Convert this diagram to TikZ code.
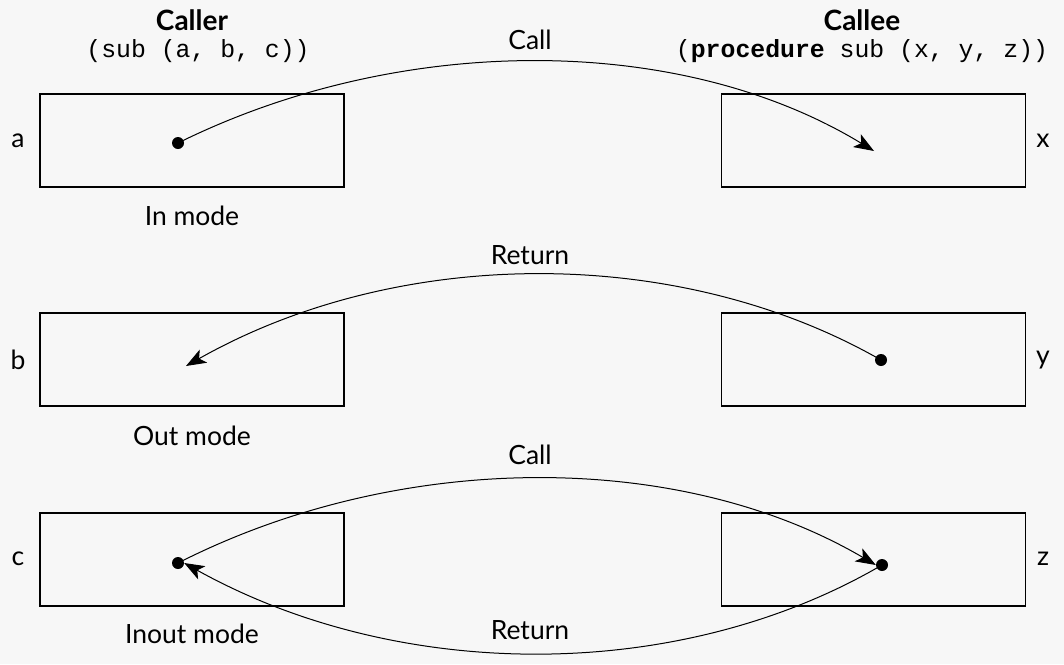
\documentclass[tikz,border=0pt]{standalone}
\usepackage{fontspec}
\setmainfont{Lato}
\newfontfamily\codefont{Liberation Mono}
\usetikzlibrary{arrows.meta}
\begin{document}
\begin{tikzpicture}[x=1pt,y=-1pt,
  box/.style={draw,line width=1.1pt,minimum width=304pt,minimum height=93pt,inner sep=0pt},
  lbl/.style={font=\fontsize{26.5}{28}\selectfont,inner sep=0pt},
  hdr/.style={font=\fontsize{28}{30}\selectfont\bfseries,inner sep=0pt},
  code/.style={font=\fontsize{24.8}{26}\selectfont\codefont,inner sep=0pt},
  dotc/.style={circle,fill,inner sep=0pt,minimum size=12pt},
  arr/.style={line width=1pt,-{Stealth[length=20pt,width=15pt,inset=5pt]}}]
\fill[black!3] (0,0) rectangle (1064,664);
\useasboundingbox (0,0) rectangle (1064,664);
% headers
\node[hdr] (caller) at (192,20) {Caller};
\node[code] (callercode) at (198,51) {(sub (a, b, c))};
\node[hdr] (callee) at (862,20) {Callee};
\node[code] (calleecode) at (862,51) {(\textbf{procedure} sub (x, y, z))};
% boxes
\node[box] (ba) at (192,140.5) {};
\node[box] (bx) at (873.5,140.5) {};
\node[box] (bb) at (192,359.5) {};
\node[box] (by) at (873.5,359.5) {};
\node[box] (bc) at (192,559.5) {};
\node[box] (bz) at (873.5,559.5) {};
% side labels
\node[lbl] (la) at (18,141) {a};
\node[lbl] (lx) at (1043,141) {x};
\node[lbl] (lb) at (18,360) {b};
\node[lbl] (ly) at (1043,360) {y};
\node[lbl] (lc) at (18,559) {c};
\node[lbl] (lz) at (1043,559) {z};
% mode labels
\node[lbl] (m1) at (192,216) {In mode};
\node[lbl] (m2) at (192,436) {Out mode};
\node[lbl] (m3) at (192,634) {Inout mode};
% dots and endpoints
\node[dotc] (d1) at (178,143) {};
\coordinate (e1) at (874,151);
\node[dotc] (d2) at (881,360) {};
\coordinate (e2) at (186,366);
\node[dotc] (d3) at (178,563) {};
\node[dotc] (d4) at (882,565) {};
% arrows
\draw[arr] (d1.center) .. controls (400,33) and (680,33) .. (e1);
\node[lbl] (t1) at (530,40) {Call};
\draw[arr] (d2.center) .. controls (680,245) and (400,245) .. (e2);
\node[lbl] (t2) at (530,255) {Return};
\draw[arr] (d3.center) .. controls (400,450) and (680,450) .. (d4.west);
\node[lbl] (t3) at (530,455) {Call};
\draw[arr] (d4.center) .. controls (680,683) and (400,683) .. (d3.east);
\node[lbl] (t4) at (530,630) {Return};
\end{tikzpicture}
\end{document}
